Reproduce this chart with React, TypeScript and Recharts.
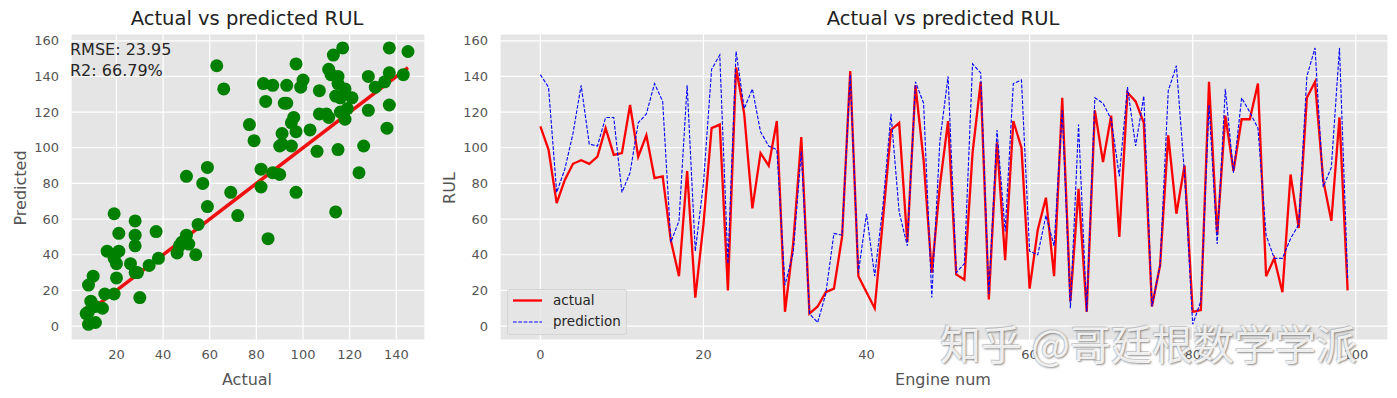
import {
  CartesianGrid,
  ComposedChart,
  Line,
  LineChart,
  Scatter,
  XAxis,
  YAxis,
} from 'recharts';

// engine-by-engine RUL values
const actual = [
  112, 99, 69, 82, 91, 93, 91, 95, 111, 96,
  97, 124, 95, 107, 83, 84, 48, 28, 87, 16,
  57, 111, 113, 20, 145, 119, 66, 97, 90, 115,
  8, 46, 106, 7, 11, 19, 21, 50, 143, 28,
  19, 10, 59, 110, 114, 47, 135, 93, 30, 79,
  115, 29, 26, 97, 137, 15, 103, 37, 115, 100,
  21, 54, 72, 28, 128, 14, 77, 8, 121, 92,
  118, 50, 131, 126, 114, 11, 34, 107, 63, 90,
  8, 9, 137, 51, 118, 87, 116, 116, 136, 28,
  38, 19, 85, 55, 128, 137, 82, 59, 117, 20,
];

const prediction = [
  141, 134, 75, 88, 108, 135, 102, 101, 117, 117,
  75, 86, 114, 119, 136, 126, 47, 59, 135, 42,
  80, 144, 152, 35, 154, 122, 133, 109, 101, 99,
  23, 41, 98, 7, 2, 18, 52, 51, 141, 30,
  63, 28, 67, 119, 64, 45, 137, 125, 16, 104,
  140, 30, 35, 147, 142, 18, 110, 53, 136, 138,
  42, 40, 62, 45, 121, 10, 113, 8, 128, 125,
  116, 84, 134, 101, 129, 11, 34, 132, 146, 85,
  1, 14, 124, 46, 133, 86, 128, 120, 111, 51,
  38, 38, 49, 57, 140, 156, 78, 89, 156, 27,
];

const yTicks = [0, 20, 40, 60, 80, 100, 120, 140, 160];
const scatterXTicks = [20, 40, 60, 80, 100, 120, 140];
const engineTicks = [0, 20, 40, 60, 80, 100];

const scatterData = actual.map((a, i) => ({ x: a, y: prediction[i] }));
const lo = Math.min(...actual);
const hi = Math.max(...actual);
const fitLine = [
  { x: lo, y: lo },
  { x: hi, y: hi },
];
const lineData = actual.map((a, i) => ({ i, actual: a, prediction: prediction[i] }));

const font = '"DejaVu Sans", sans-serif';
const tickStyle = { fill: '#555', fontSize: 13, fontFamily: font };

const Dot = (props: any) => (
  <circle cx={props.cx} cy={props.cy} r={6.5} fill="#008000" />
);

const abs = (x: number, y: number, extra: any = {}) => ({
  position: 'absolute' as const,
  left: x,
  top: y,
  fontFamily: font,
  whiteSpace: 'nowrap' as const,
  ...extra,
});

export default function App() {
  return (
    <div
      style={{
        position: 'absolute',
        left: 0,
        top: 0,
        width: 1397,
        height: 398,
        background: '#fff',
        overflow: 'hidden',
      }}
    >
      <div style={{ position: 'absolute', left: 0, top: 0 }}>
        <ComposedChart
          width={480}
          height={398}
          margin={{ top: 34, right: 55, bottom: 0, left: 0 }}
        >
          <CartesianGrid fill="#E5E5E5" stroke="#fff" strokeWidth={1.2} />
          <XAxis
            type="number"
            dataKey="x"
            domain={[0.5, 152.3]}
            ticks={scatterXTicks}
            allowDataOverflow
            height={58}
            axisLine={false}
            tickLine={false}
            tickSize={0}
            tickMargin={10}
            tick={tickStyle}
          />
          <YAxis
            type="number"
            dataKey="y"
            domain={[-7.8, 163.8]}
            ticks={yTicks}
            allowDataOverflow
            width={71}
            axisLine={false}
            tickLine={false}
            tickSize={0}
            tickMargin={12}
            tick={tickStyle}
          />
          <Scatter data={scatterData} shape={Dot} isAnimationActive={false} />
          <Line
            data={fitLine}
            dataKey="y"
            stroke="#EE1111"
            strokeWidth={3.5}
            dot={false}
            isAnimationActive={false}
          />
        </ComposedChart>
      </div>

      <div style={{ position: 'absolute', left: 430, top: 0 }}>
        <LineChart
          width={967}
          height={398}
          data={lineData}
          margin={{ top: 34, right: 9, bottom: 0, left: 0 }}
        >
          <CartesianGrid fill="#E5E5E5" stroke="#fff" strokeWidth={1.2} />
          <XAxis
            type="number"
            dataKey="i"
            domain={[-4.95, 103.95]}
            ticks={engineTicks}
            allowDataOverflow
            height={58}
            axisLine={false}
            tickLine={false}
            tickSize={0}
            tickMargin={10}
            tick={tickStyle}
          />
          <YAxis
            type="number"
            domain={[-7.8, 163.8]}
            ticks={yTicks}
            allowDataOverflow
            width={70}
            axisLine={false}
            tickLine={false}
            tickSize={0}
            tickMargin={12}
            tick={tickStyle}
          />
          <Line
            dataKey="actual"
            stroke="#FF0000"
            strokeWidth={2.3}
            dot={false}
            isAnimationActive={false}
          />
          <Line
            dataKey="prediction"
            stroke="#0000FF"
            strokeWidth={1.1}
            strokeDasharray="3.7 1.6"
            dot={false}
            isAnimationActive={false}
          />
        </LineChart>
      </div>

      {/* titles and axis labels */}
      <div style={abs(247, 18, { transform: 'translate(-50%,-50%)', fontSize: 19.5, color: '#222' })}>
        Actual vs predicted RUL
      </div>
      <div style={abs(943, 18, { transform: 'translate(-50%,-50%)', fontSize: 19.5, color: '#222' })}>
        Actual vs predicted RUL
      </div>
      <div style={abs(247, 379, { transform: 'translate(-50%,-50%)', fontSize: 16, color: '#555' })}>
        Actual
      </div>
      <div style={abs(943, 379, { transform: 'translate(-50%,-50%)', fontSize: 16, color: '#555' })}>
        Engine num
      </div>
      <div style={abs(20, 188, { transform: 'translate(-50%,-50%) rotate(-90deg)', fontSize: 16, color: '#555' })}>
        Predicted
      </div>
      <div style={abs(449, 188, { transform: 'translate(-50%,-50%) rotate(-90deg)', fontSize: 16, color: '#555' })}>
        RUL
      </div>

      {/* metrics text */}
      <div style={abs(70, 39, { fontSize: 16, color: '#262626', lineHeight: '21px' })}>
        RMSE: 23.95
        <br />
        R2: 66.79%
      </div>

      {/* legend */}
      <div
        style={abs(507, 289, {
          width: 120,
          height: 46,
          background: 'rgba(229,229,229,0.8)',
          border: '1px solid #d4d4d4',
          borderRadius: 3,
          boxSizing: 'border-box',
          fontSize: 13.5,
          color: '#262626',
        })}
      >
        <svg width={40} height={46} style={{ position: 'absolute', left: 0, top: 0 }}>
          <line x1={5} y1={10.5} x2={34} y2={10.5} stroke="#FF0000" strokeWidth={2.3} />
          <line x1={5} y1={32} x2={34} y2={32} stroke="#0000FF" strokeWidth={1.1} strokeDasharray="3.7 1.6" />
        </svg>
        <div style={abs(45, 2)}>actual</div>
        <div style={abs(45, 23)}>prediction</div>
      </div>

      {/* watermark */}
      <div
        style={abs(940, 317, {
          fontSize: 41,
          fontFamily: '"Noto Sans CJK SC", sans-serif',
          color: 'rgba(255,255,255,0.85)',
          textShadow: '1px 1px 2px rgba(90,90,90,0.7), -1px -1px 1px rgba(150,150,150,0.5)',
          lineHeight: '50px',
        })}
      >
        知乎 @哥廷根数学学派
      </div>
    </div>
  );
}
